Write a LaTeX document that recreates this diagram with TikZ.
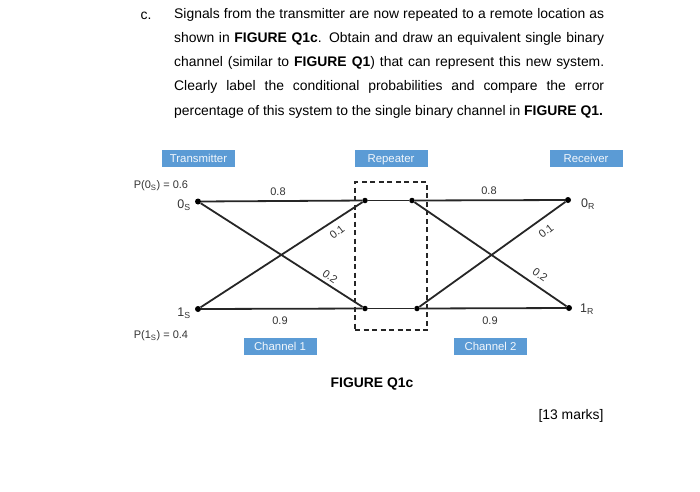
\documentclass[tikz,border=0pt]{standalone}
\usepackage{fontspec}
\setmainfont{Liberation Sans}
\usepackage{xcolor}
\usepackage{tikz}
\usetikzlibrary{calc}
\definecolor{BoxBlue}{HTML}{5B9BD5}
\definecolor{LabelGray}{HTML}{333333}
\tikzset{
  titlebox/.style={fill=BoxBlue, text=white!92!BoxBlue, minimum width=73pt, minimum height=17pt, inner sep=0pt, text height=10.5pt, text depth=2pt, font=\fontsize{11.4}{13}\selectfont},
  bit/.style={circle, fill=black, inner sep=0pt, minimum size=5.5pt},
  endbit/.style={bit, minimum size=6pt},
  wire/.style={line width=1.8pt, draw=black!85},
  prob/.style={text=LabelGray, inner sep=0pt, font=\fontsize{11}{12}\selectfont},
  bitlabel/.style={prob, font=\fontsize{12.5}{14}\selectfont},
  para/.style={inner sep=0pt, anchor=north west, text width=430pt, align=justify, font=\fontsize{13.9}{24.2}\selectfont}
}
\begin{document}
\begin{tikzpicture}[x=1pt, y=-1pt]
\useasboundingbox (0,0) rectangle (700,491);
\node[inner sep=0pt, font=\fontsize{13.9}{15}\selectfont] (partc) at (146,15.5) {c.};
\node[para] (question) at (174,8) {Signals from the transmitter are now repeated to a remote location as\linebreak shown in \textbf{FIGURE Q1c}. Obtain and draw an equivalent single binary\linebreak channel (similar to \textbf{FIGURE Q1}) that can represent this new system.\linebreak Clearly label the conditional probabilities and compare the error\linebreak percentage of this system to the single binary channel in \textbf{FIGURE Q1.}};
\node[titlebox] (transmitter) at (198.5,158.5) {Transmitter};
\node[titlebox] (repeater) at (391,158.5) {Repeater};
\node[titlebox] (receiver) at (586,158.5) {Receiver};
\node[titlebox] (channelA) at (280,346.5) {Channel 1};
\node[titlebox] (channelB) at (490.5,346.5) {Channel 2};
\node[endbit] (zeroS) at (198,201.5) {}; %source
\node[endbit] (oneS) at (198,309) {};
\node[bit] (zeroA) at (365,200.5) {}; %repeater in
\node[bit] (oneA) at (365,308.5) {};
\node[bit] (zeroB) at (412,200.5) {}; %repeater out
\node[bit] (oneB) at (417,308.5) {};
\node[endbit] (zeroR) at (568,200) {}; %receiver
\node[endbit] (oneR) at (569,308) {};
\draw[wire] (zeroS) -- (zeroA);
\draw[wire] (zeroS) -- (oneA);
\draw[wire] (oneS) -- (zeroA);
\draw[wire] (oneS) -- (oneA);
\draw[wire] (zeroA) -- (zeroB);
\draw[wire] (oneA) -- (oneB);
\draw[wire] (zeroB) -- (zeroR);
\draw[wire] (zeroB) -- (oneR);
\draw[wire] (oneB) -- (zeroR);
\draw[wire] (oneB) -- (oneR);
\node[draw=black!85, line width=1.2pt, dash pattern=on 5pt off 3.5pt, minimum width=72pt, minimum height=148pt, inner sep=0pt] (repeaterbox) at (391,256) {};
\node[prob] (probzero) at (161,186) {P(0\textsubscript{S}) = 0.6};
\node[prob] (probone) at (161,336) {P(1\textsubscript{S}) = 0.4};
\node[bitlabel] (labelzeroS) at (184,205) {0\textsubscript{S}};
\node[bitlabel] (labeloneS) at (184,313) {1\textsubscript{S}};
\node[bitlabel] (labelzeroR) at (588,204) {0\textsubscript{R}};
\node[bitlabel] (labeloneR) at (587,309) {1\textsubscript{R}};
\node[prob] (hiA) at (278,192) {0.8};
\node[prob] (loA) at (280,321) {0.9};
\node[prob] (hiB) at (489,190.5) {0.8};
\node[prob] (loB) at (490,320.5) {0.9};
\node[prob, rotate=38] (upA) at (337,232) {0.1};
\node[prob, rotate=-36] (downA) at (330,276.5) {0.2};
\node[prob, rotate=38] (upB) at (546,231) {0.1};
\node[prob, rotate=-36] (downB) at (540,275) {0.2};
\node[inner sep=0pt, font=\bfseries\fontsize{13.9}{15}\selectfont] (figlabel) at (372,384.5) {FIGURE Q1c};
\node[inner sep=0pt, font=\fontsize{13.9}{15}\selectfont] (marks) at (571,415.5) {[13 marks]};
\end{tikzpicture}
\end{document}
